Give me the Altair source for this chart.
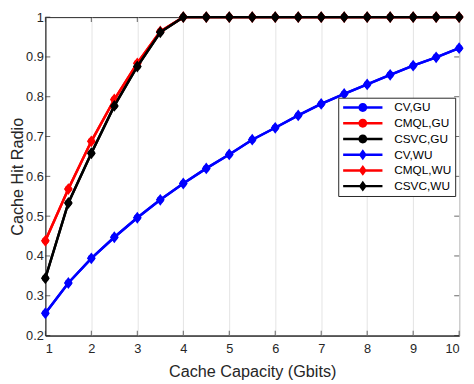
import altair as alt
import pandas as pd

x_vals = [1, 1.5, 2, 2.5, 3, 3.5, 4, 4.5, 5, 5.5, 6, 6.5, 7, 7.5, 8, 8.5, 9, 9.5, 10]
cv_gu = [0.256, 0.332, 0.394, 0.447, 0.496, 0.541, 0.582, 0.620, 0.655, 0.692, 0.722, 0.753, 0.782, 0.807, 0.831, 0.855, 0.878, 0.899, 0.922]
cmql_gu = [0.438, 0.568, 0.688, 0.793, 0.884, 0.964, 1, 1, 1, 1, 1, 1, 1, 1, 1, 1, 1, 1, 1]
csvc_gu = [0.344, 0.533, 0.658, 0.777, 0.876, 0.962, 1, 1, 1, 1, 1, 1, 1, 1, 1, 1, 1, 1, 1]
cv_wu = [0.256, 0.332, 0.394, 0.447, 0.496, 0.541, 0.582, 0.620, 0.655, 0.692, 0.722, 0.753, 0.782, 0.807, 0.831, 0.855, 0.878, 0.899, 0.922]
cmql_wu = [0.438, 0.568, 0.688, 0.793, 0.884, 0.964, 1, 1, 1, 1, 1, 1, 1, 1, 1, 1, 1, 1, 1]
csvc_wu = [0.344, 0.533, 0.658, 0.777, 0.876, 0.962, 1, 1, 1, 1, 1, 1, 1, 1, 1, 1, 1, 1, 1]

series_names = ["CV,GU", "CMQL,GU", "CSVC,GU", "CV,WU", "CMQL,WU", "CSVC,WU"]
series_values = [cv_gu, cmql_gu, csvc_gu, cv_wu, cmql_wu, csvc_wu]
series_colors = ["#0000ff", "#ff0000", "#000000", "#0000ff", "#ff0000", "#000000"]
series_markers = ["circle", "circle", "circle", "diamond", "diamond", "diamond"]

x_ticks = [1, 2, 3, 4, 5, 6, 7, 8, 9, 10]
y_ticks = [0.2, 0.3, 0.4, 0.5, 0.6, 0.7, 0.8, 0.9, 1.0]

FONT = "Liberation Sans"
INK = "#262626"

DIAMOND = "M0,-1L0.75,0L0,1L-0.75,0Z"
LEG_CIRCLE = ("M-4,-0.24H4V0.24H-4Z"
              "M-0.9,0A0.9,0.9 0 1,1 0.9,0A0.9,0.9 0 1,1 -0.9,0Z")
LEG_DIAMOND = "M-4,-0.24H4V0.24H-4ZM0,-1.1L0.8,0L0,1.1L-0.8,0Z"
legend_shapes = [LEG_CIRCLE if m == "circle" else LEG_DIAMOND for m in series_markers]

rows = []
for name, vals in zip(series_names, series_values):
    for x, y in zip(x_vals, vals):
        rows.append({"series": name, "x": x, "y": y})
df = pd.DataFrame(rows)

x_scale = alt.Scale(domain=[x_ticks[0], x_ticks[-1]], nice=False, zero=False)
y_scale = alt.Scale(domain=[y_ticks[0], y_ticks[-1]], nice=False, zero=False)
x_axis = alt.Axis(values=x_ticks, title="Cache Capacity (Gbits)", format="d",
                  labelFontSize=13, titleFontSize=16.5, labelPadding=7, titlePadding=9,
                  ticks=False, tickSize=0)
y_axis = alt.Axis(values=y_ticks, title="Cache Hit Radio", format=".1~f",
                  labelFontSize=13, titleFontSize=16.5, labelPadding=2, titlePadding=0,
                  ticks=False, tickSize=0)

X = alt.X("x:Q", scale=x_scale, axis=x_axis)
Y = alt.Y("y:Q", scale=y_scale, axis=y_axis)

layers = []
for name, col, mk in zip(series_names, series_colors, series_markers):
    sub = df[df["series"] == name]
    base = alt.Chart(sub)
    layers.append(base.mark_line(strokeWidth=2.5, color=col).encode(x=X, y=Y))
    if mk == "diamond":
        layers.append(base.mark_point(filled=True, shape=DIAMOND, size=144, opacity=1,
                                      color=col).encode(x=X, y=Y))
    else:
        layers.append(base.mark_point(filled=True, shape="circle", size=50, opacity=1,
                                      color=col).encode(x=X, y=Y))

leg = alt.Legend(title=None, orient="none", legendX=298, legendY=82,
                 symbolSize=100, symbolOffset=15, labelOffset=26,
                 symbolStrokeWidth=0, symbolOpacity=1,
                 labelFont=FONT, labelFontSize=12, labelColor="#000000",
                 fillColor="#ffffff", strokeColor=INK, padding=4, rowPadding=4,
                 cornerRadius=0)
legend_layer = alt.Chart(df).mark_point(filled=True, opacity=0).encode(
    x=X, y=Y,
    color=alt.Color("series:N", scale=alt.Scale(domain=series_names, range=series_colors), legend=leg),
    shape=alt.Shape("series:N", scale=alt.Scale(domain=series_names, range=legend_shapes), legend=leg),
)

# inward tick marks (MATLAB style box ticks)
xt = pd.DataFrame({"x": x_ticks})
yt = pd.DataFrame({"y": y_ticks})
tick_layers = [
    alt.Chart(xt).mark_tick(orient="vertical", size=5, thickness=1, color=INK, yOffset=-2.5).encode(
        x=X, y=alt.Y(datum=y_ticks[0], scale=y_scale, axis=y_axis)),
    alt.Chart(xt).mark_tick(orient="vertical", size=5, thickness=1, color=INK, yOffset=2.5).encode(
        x=X, y=alt.Y(datum=y_ticks[-1], scale=y_scale, axis=y_axis)),
    alt.Chart(yt).mark_tick(orient="horizontal", size=5, thickness=1, color=INK, xOffset=2.5).encode(
        y=Y, x=alt.X(datum=x_ticks[0], scale=x_scale, axis=x_axis)),
    alt.Chart(yt).mark_tick(orient="horizontal", size=5, thickness=1, color=INK, xOffset=-2.5).encode(
        y=Y, x=alt.X(datum=x_ticks[-1], scale=x_scale, axis=x_axis)),
]

chart = alt.layer(*tick_layers, *layers, legend_layer).properties(
    width=421, height=324,
    padding={"left": 38, "top": 6, "right": 7, "bottom": 46},
    autosize=alt.AutoSizeParams(type="none"),
).configure_view(stroke=INK, strokeWidth=1).configure_axis(
    labelFont=FONT, titleFont=FONT, labelColor=INK, titleColor=INK,
    domainColor=INK, gridColor="#e3e3e3", gridWidth=1, titleFontWeight="normal",
).configure_legend(symbolOpacity=1)

chart.save("out.html", embed_options={"renderer": "svg", "actions": False})
